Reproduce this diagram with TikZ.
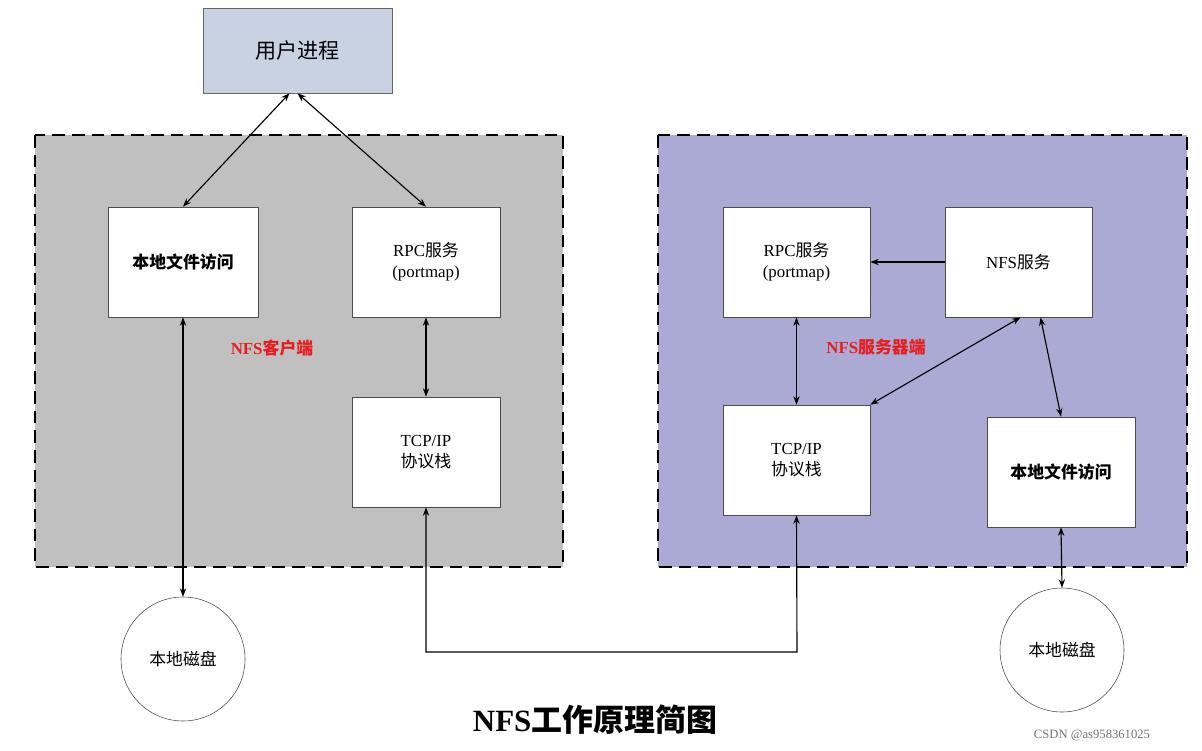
\documentclass[tikz,border=0pt]{standalone}
\usepackage{fontspec}
\setmainfont{Liberation Serif}
\newfontfamily\cjk{Noto Sans CJK SC}
\usetikzlibrary{arrows.meta}
\definecolor{topc}{RGB}{200,210,226}
\definecolor{lgray}{RGB}{192,192,192}
\definecolor{lav}{RGB}{170,170,212}
\definecolor{lred}{RGB}{230,30,30}
\begin{document}
\begin{tikzpicture}[x=0.025cm,y=-0.025cm,
  region/.style={draw=black,line width=1.6pt,dash pattern=on 9pt off 5pt},
  bx/.style={draw=black!70,fill=white,line width=0.5pt,align=center,font=\fontsize{12}{15}\selectfont},
  dbl/.style={{Stealth[length=6pt]}-{Stealth[length=6pt]},line width=0.8pt},
  sgl/.style={-{Stealth[length=6pt]},line width=0.8pt}]
\useasboundingbox (0,0) rectangle (1202,750);
\fill[white] (0,0) rectangle (1202,750);
\draw[region,fill=lgray] (35,135) rectangle (563,567);
\draw[region,fill=lav] (658,135) rectangle (1187,567);
\node[draw=black!60,fill=topc,minimum width=189*0.025cm,minimum height=85*0.025cm,font=\fontsize{15}{18}\selectfont] (user) at (297.5,50.5) {\cjk 用户进程};
\node[bx,minimum width=150*0.025cm,minimum height=110*0.025cm] (lfa) at (183,262) {\cjk\bfseries 本地文件访问};
\node[bx,minimum width=148*0.025cm,minimum height=110*0.025cm] (lrpc) at (426,262) {RPC{\cjk 服务}\\({portmap})};
\node[bx,minimum width=148*0.025cm,minimum height=110*0.025cm] (ltcp) at (426,452) {TCP/IP\\{\cjk 协议栈}};
\node[bx,minimum width=147*0.025cm,minimum height=110*0.025cm] (rrpc) at (796.5,262) {RPC{\cjk 服务}\\({portmap})};
\node[bx,minimum width=147*0.025cm,minimum height=110*0.025cm] (nfs) at (1018.5,262) {NFS{\cjk 服务}};
\node[bx,minimum width=147*0.025cm,minimum height=110*0.025cm] (rtcp) at (796.5,460) {TCP/IP\\{\cjk 协议栈}};
\node[bx,minimum width=148*0.025cm,minimum height=110*0.025cm] (rfa) at (1061,472) {\cjk\bfseries 本地文件访问};
\node[draw=black!70,fill=white,circle,minimum size=124*0.025cm,font=\fontsize{12}{15}\selectfont] (ld) at (183,659) {\cjk 本地磁盘};
\node[draw=black!70,fill=white,circle,minimum size=124*0.025cm,font=\fontsize{12}{15}\selectfont] (rd) at (1062,650) {\cjk 本地磁盘};
\node[text=lred,font=\bfseries\fontsize{12}{15}\selectfont] (lc) at (272,348) {NFS{\cjk\bfseries 客户端}};
\node[text=lred,font=\bfseries\fontsize{12}{15}\selectfont] (sc) at (876,347) {NFS{\cjk\bfseries 服务器端}};
\node[font=\bfseries\fontsize{22}{26}\selectfont] (title) at (595,720) {NFS{\cjk\bfseries 工作原理简图}};
\node[text=black!55,font=\fontsize{9}{11}\selectfont] (wm) at (1092,735) {CSDN @as958361025};
\draw[dbl] ([xshift=-8*0.025cm]user.south) -- (lfa.north);
\draw[dbl] (user.south) -- (lrpc.north);
\draw[dbl] (lfa.south) -- (ld.north);
\draw[dbl] (lrpc.south) -- (ltcp.north);
\coordinate (c1) at (426,652);
\coordinate (c2) at (797,652);
\draw[dbl] (ltcp.south) -- (c1) -- (c2) -- (rtcp.south);
\draw[dbl] (rrpc.south) -- (rtcp.north);
\draw[sgl] (nfs.west) -- (rrpc.east);
\draw[dbl] ([xshift=2*0.025cm]nfs.south) -- (rtcp.north east);
\draw[dbl] ([xshift=22*0.025cm]nfs.south) -- (rfa.north);
\draw[dbl] (rfa.south) -- (rd.north);
\end{tikzpicture}
\end{document}
